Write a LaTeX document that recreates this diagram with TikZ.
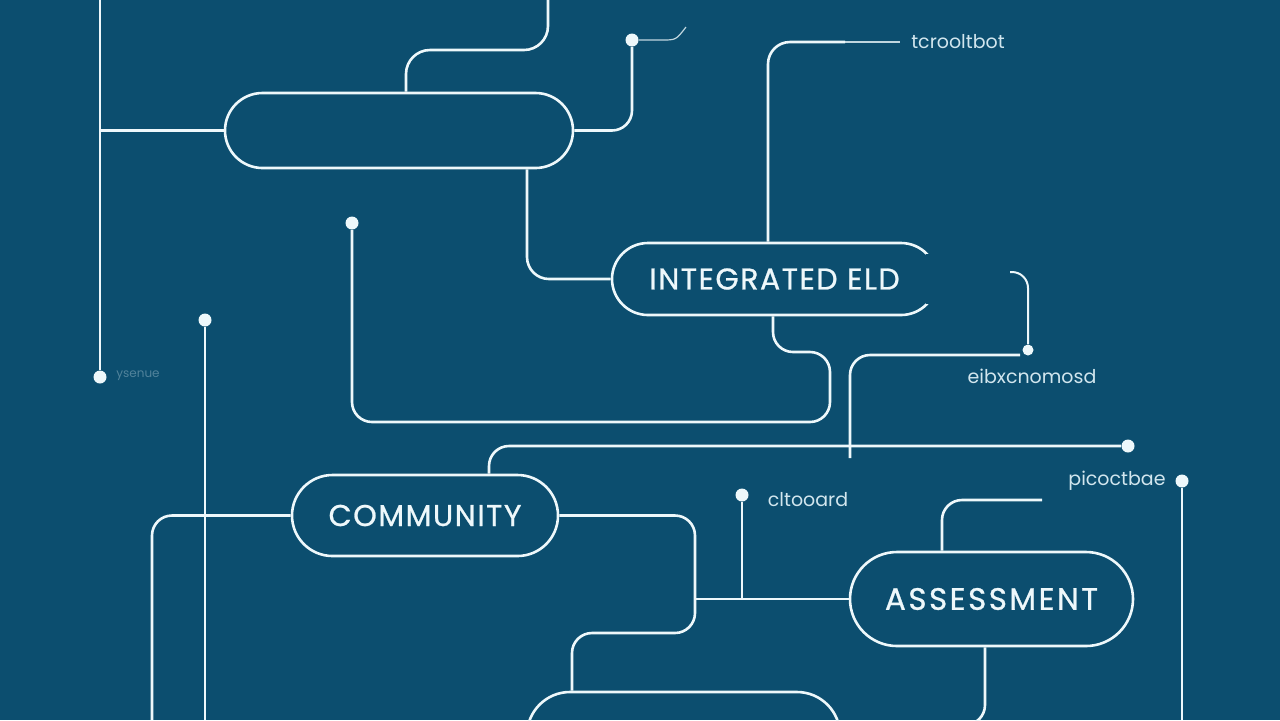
\documentclass[tikz,border=0pt]{standalone}
\usepackage{fontspec}
\setmainfont{Poppins}
\newfontfamily\pillfont{Poppins}[FakeBold=0.8, LetterSpace=5]
\newfontfamily\pillwidefont{Poppins}[FakeBold=0.8, LetterSpace=8]
\usetikzlibrary{shapes.misc,calc}
\definecolor{bg}{HTML}{0C4E6F}
\definecolor{ln}{HTML}{EEF8FB}
\definecolor{lbl}{HTML}{D2E6EE}
\tikzset{
  wire/.style={draw=ln, line width=1.3pt, rounded corners=10pt},
  thinwire/.style={draw=ln, line width=0.6pt, opacity=0.8},
  pill/.style={draw=ln, line width=1.3pt, rounded rectangle, inner sep=0pt,
     text=ln, font=\pillfont\fontsize{15pt}{17pt}\selectfont},
  dotnode/.style={circle, fill=ln, inner sep=0pt, minimum size=6.5pt},
  smalllbl/.style={text=lbl, font=\fontsize{9.5pt}{10pt}\selectfont, inner sep=0pt}
}
\begin{document}
\begin{tikzpicture}[x=0.5pt,y=-0.5pt]
\fill[bg] (0,0) rectangle (1280,720);
\useasboundingbox (0,0) rectangle (1280,720);
\clip (0,0) rectangle (1280,720);

% pills
\node[pill, minimum width=174pt, minimum height=37.5pt] (p1) at (399,130.5) {};
\node[pill, minimum width=162.5pt, minimum height=36pt] (eld) at (774.5,279) {INTEGRATED ELD};
\fill[bg] (926,254) rectangle (945,304);
\node[pill, minimum width=133pt, minimum height=40.5pt] (comm) at (425,515.5) {COMMUNITY};
\node[pill, minimum width=141.5pt, minimum height=47pt, font=\pillwidefont\fontsize{15.5pt}{17pt}\selectfont] (assess) at (991.5,599) {ASSESSMENT};
\node[pill, minimum width=156.5pt, minimum height=43pt] (p5) at (683.5,735) {};

% dots
\node[dotnode] (d1) at (100,377) {};
\node[dotnode] (d2) at (632,40) {};
\node[dotnode] (d3) at (352,223) {};
\node[dotnode] (d4) at (205,320) {};
\node[dotnode, minimum size=5.5pt] (d5) at (1028,350) {};
\node[dotnode] (d6) at (1128,446) {};
\node[dotnode] (d7) at (742,495) {};
\node[dotnode] (d8) at (1182,481) {};

% coordinates for free ends and bends
\coordinate (c1) at (100,0);
\coordinate (c2) at (548,0);
\coordinate (c3) at (686,27);
\coordinate (c4) at (900,42);
\coordinate (c5) at (1010,272);
\coordinate (c6) at (1020,355);
\coordinate (c7) at (850,458);
\coordinate (c8) at (152,720);
\coordinate (c9) at (205,720);
\coordinate (c10) at (1042,500);
\coordinate (c11) at (950,725);
\coordinate (c12) at (1182,720);
\coordinate (b1) at (695,633);
\coordinate (b2) at (695,599);

% connectors
\draw[wire] (c1) -- (d1);
\draw[wire] (p1.west) -- (p1.west -| c1);
\draw[wire, rounded corners=12pt] ($(p1.north)+(7,0)$) -- (406,50) -- (548,50) -- (c2);
\draw[wire] (p1.east) -| (d2);
\draw[thinwire] (d2) -- (662,40) .. controls (676,40) .. (c3);
\draw[wire, rounded corners=11pt] ($(p1.south)+(128,0)$) |- (eld.west);
\draw[wire, rounded corners=11pt] ($(eld.north)+(-6.5,0)$) -- (768,42) -- (845,42);
\draw[thinwire] (845,42) -- (c4);
\draw[wire] ($(eld.south)+(-1.5,0)$) -- (773,352) -- (830,352) -- (830,422) -- (352,422) -- (d3);
\draw[thinwire, line width=1pt, opacity=1, rounded corners=8pt] (c5) -- (1028,272) -- (d5);
\draw[wire] (c6) -- (850,355) -- (c7);
\draw[wire] ($(comm.north)+(64,0)$) |- (d6);
\draw[wire] (comm.west) -| (c8);
\draw[wire] (d4) -- (c9);
\draw[wire] (comm.east) -| (b1) -- (572,633) -- ($(p5.north)+(-111.5,0)$);
\draw[wire] (b2) -- (assess.west);
\draw[wire] (d7) -- (d7 |- assess.west);
\draw[wire] ($(assess.north)+(-49.5,0)$) |- (c10);
\draw[wire] ($(assess.south)+(-6.5,0)$) |- (c11);
\draw[wire] (d8) -- (c12);

% labels
\node[smalllbl] (l1) at (958,42) {tcrooltbot};
\node[smalllbl] (l2) at (1032,376) {eibxcnomosd};
\node[smalllbl] (l3) at (1117,481) {picoctbae};
\node[smalllbl] (l4) at (808,500) {cltooard};
\node[smalllbl, opacity=0.35, font=\fontsize{6pt}{7pt}\selectfont] (l5) at (138,376) {ysenue};
\end{tikzpicture}
\end{document}
